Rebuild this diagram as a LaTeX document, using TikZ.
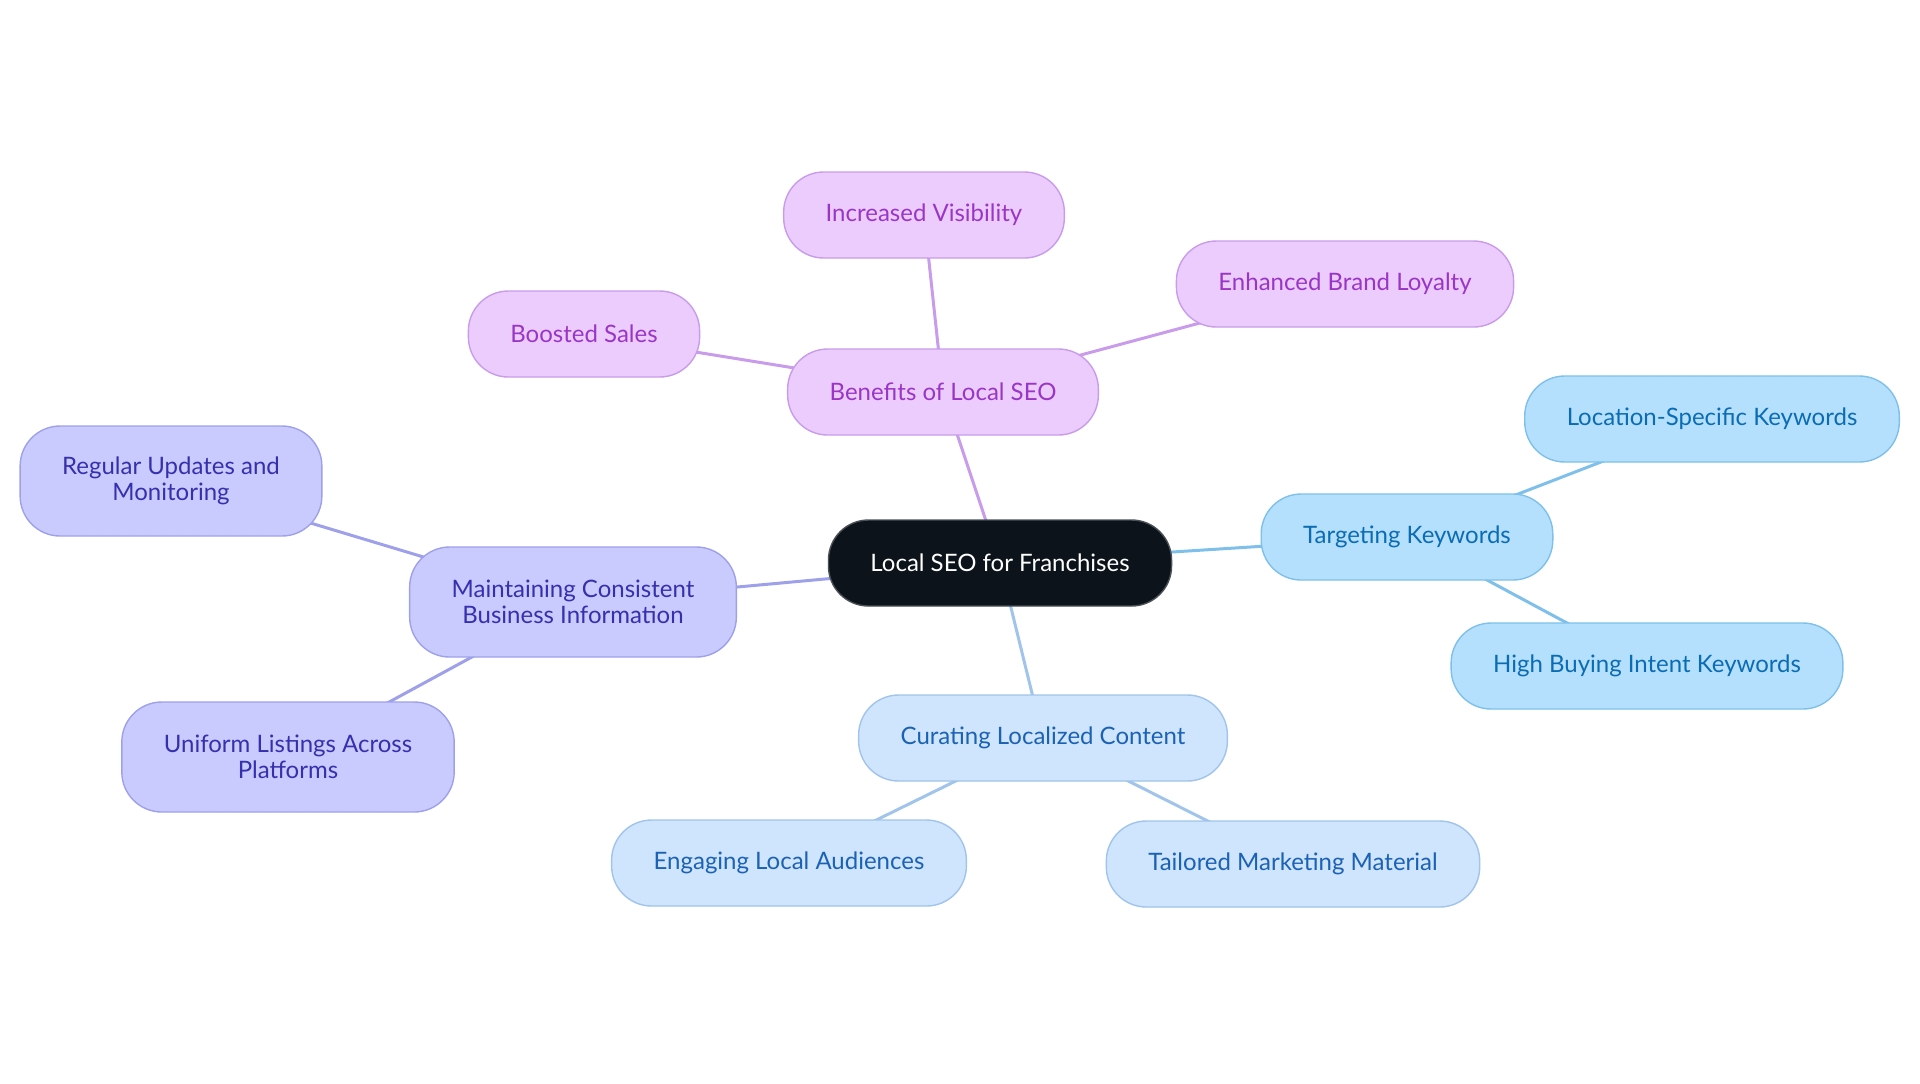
\documentclass[tikz,border=0pt]{standalone}
\usepackage{fontspec}
\setmainfont{Lato}
\usetikzlibrary{backgrounds}

\definecolor{rootfill}{HTML}{0C131A}
\definecolor{rootline}{HTML}{4A5058}
\definecolor{purfill}{HTML}{ECCBFD}
\definecolor{purline}{HTML}{C89CEA}
\definecolor{purtext}{HTML}{9A36C6}
\definecolor{indfill}{HTML}{C9CBFE}
\definecolor{indline}{HTML}{9EA0EA}
\definecolor{indtext}{HTML}{3530AE}
\definecolor{skyfill}{HTML}{B4E0FE}
\definecolor{skyline}{HTML}{7EC0EA}
\definecolor{skytext}{HTML}{0B6CB4}
\definecolor{palefill}{HTML}{CFE4FD}
\definecolor{paleline}{HTML}{A0C4EA}
\definecolor{paletext}{HTML}{1B62B5}

\tikzset{
  topic/.style={rectangle,rounded corners=20pt,draw,line width=0.7pt,inner xsep=21pt,
    minimum height=43pt,align=center,font=\fontsize{12}{13}\selectfont},
  rootnode/.style={topic,fill=rootfill,draw=rootline,text=white},
  purnode/.style={topic,fill=purfill,draw=purline,text=purtext},
  indnode/.style={topic,fill=indfill,draw=indline,text=indtext},
  skynode/.style={topic,fill=skyfill,draw=skyline,text=skytext},
  palenode/.style={topic,fill=palefill,draw=paleline,text=paletext},
  twoline/.style={minimum height=55pt},
  branch/.style={line width=1.5pt},
}

\begin{document}
\begin{tikzpicture}[x=0.5pt,y=-0.5pt]
                \useasboundingbox (0,0) rectangle (1920,1083);

                \node[rootnode] (seo) at (1000, 563) {Local SEO for Franchises};

                \node[purnode] (ben) at (943, 392) {Benefits of Local SEO};
                \node[purnode] (vis) at (924, 215) {Increased Visibility};
                \node[purnode] (loyal) at (1345, 284) {Enhanced Brand Loyalty};
                \node[purnode] (sales) at (584, 334) {Boosted Sales};

                \node[indnode,twoline] (info) at (573, 602) {Maintaining Consistent\\Business Information};
                \node[indnode,twoline] (upd) at (171, 481) {Regular Updates and\\Monitoring};
                \node[indnode,twoline] (unif) at (288, 757) {Uniform Listings Across\\Platforms};

                \node[skynode] (kw) at (1407, 537) {Targeting Keywords};
                \node[skynode] (loc) at (1712, 419) {Location-Specific Keywords};
                \node[skynode] (buy) at (1647, 666) {High Buying Intent Keywords};

                \node[palenode] (cont) at (1043, 738) {Curating Localized Content};
                \node[palenode] (aud) at (789, 863) {Engaging Local Audiences};
                \node[palenode] (mat) at (1293, 864) {Tailored Marketing Material};

                \begin{scope}[on background layer]
                \draw[branch,purline] (seo.center) -- (ben.center)
                (ben.center) -- (vis.center)
                (ben.center) -- (loyal.center)
                (ben.center) -- (sales.center);
                \draw[branch,indline] (seo.center) -- (info.center)
                (info.center) -- (upd.center)
                (info.center) -- (unif.center);
                \draw[branch,skyline] (seo.center) -- (kw.center)
                (kw.center) -- (loc.center)
                (kw.center) -- (buy.center);
                \draw[branch,paleline] (seo.center) -- (cont.center)
                (cont.center) -- (aud.center)
                (cont.center) -- (mat.center);
                \end{scope}
            \end{tikzpicture}
\end{document}
